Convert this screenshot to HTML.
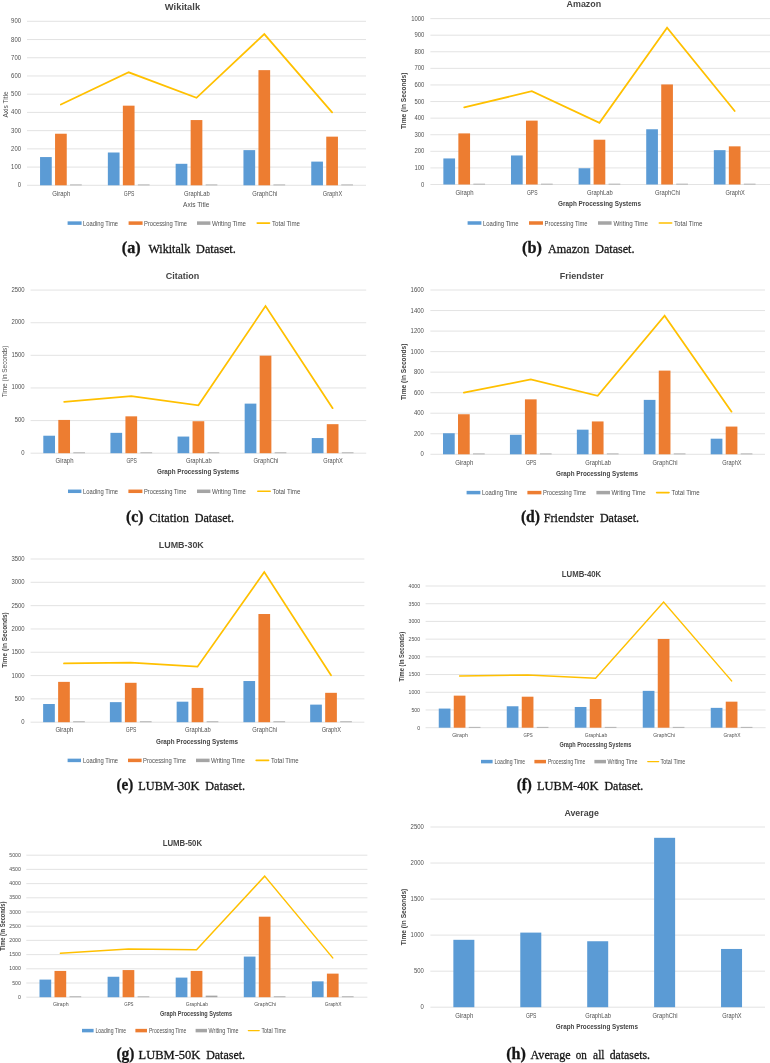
<!DOCTYPE html>
<html lang="en"><head><meta charset="utf-8"><title>Graph processing systems - execution time breakdown</title>
<style>html,body{margin:0;padding:0;background:#fff}body{width:770px;height:1063px;overflow:hidden}svg{display:block;filter:blur(0.35px)}</style>
</head><body>
<svg width="770" height="1063" viewBox="0 0 770 1063">
<rect width="770" height="1063" fill="#ffffff"/>
<g id="chart-a">
<line x1="27" x2="366" y1="185.3" y2="185.3" stroke="#e0e0e0" stroke-width="0.9"/>
<text x="21" y="187.3" text-anchor="end" font-size="6.6" fill="#505050" font-family="Liberation Sans, sans-serif" textLength="3.3" lengthAdjust="spacingAndGlyphs">0</text>
<line x1="27" x2="366" y1="167.08" y2="167.08" stroke="#e0e0e0" stroke-width="0.9"/>
<text x="21" y="169.08" text-anchor="end" font-size="6.6" fill="#505050" font-family="Liberation Sans, sans-serif" textLength="9.9" lengthAdjust="spacingAndGlyphs">100</text>
<line x1="27" x2="366" y1="148.86" y2="148.86" stroke="#e0e0e0" stroke-width="0.9"/>
<text x="21" y="150.86" text-anchor="end" font-size="6.6" fill="#505050" font-family="Liberation Sans, sans-serif" textLength="9.9" lengthAdjust="spacingAndGlyphs">200</text>
<line x1="27" x2="366" y1="130.63" y2="130.63" stroke="#e0e0e0" stroke-width="0.9"/>
<text x="21" y="132.63" text-anchor="end" font-size="6.6" fill="#505050" font-family="Liberation Sans, sans-serif" textLength="9.9" lengthAdjust="spacingAndGlyphs">300</text>
<line x1="27" x2="366" y1="112.41" y2="112.41" stroke="#e0e0e0" stroke-width="0.9"/>
<text x="21" y="114.41" text-anchor="end" font-size="6.6" fill="#505050" font-family="Liberation Sans, sans-serif" textLength="9.9" lengthAdjust="spacingAndGlyphs">400</text>
<line x1="27" x2="366" y1="94.19" y2="94.19" stroke="#e0e0e0" stroke-width="0.9"/>
<text x="21" y="96.19" text-anchor="end" font-size="6.6" fill="#505050" font-family="Liberation Sans, sans-serif" textLength="9.9" lengthAdjust="spacingAndGlyphs">500</text>
<line x1="27" x2="366" y1="75.97" y2="75.97" stroke="#e0e0e0" stroke-width="0.9"/>
<text x="21" y="77.97" text-anchor="end" font-size="6.6" fill="#505050" font-family="Liberation Sans, sans-serif" textLength="9.9" lengthAdjust="spacingAndGlyphs">600</text>
<line x1="27" x2="366" y1="57.74" y2="57.74" stroke="#e0e0e0" stroke-width="0.9"/>
<text x="21" y="59.74" text-anchor="end" font-size="6.6" fill="#505050" font-family="Liberation Sans, sans-serif" textLength="9.9" lengthAdjust="spacingAndGlyphs">700</text>
<line x1="27" x2="366" y1="39.52" y2="39.52" stroke="#e0e0e0" stroke-width="0.9"/>
<text x="21" y="41.52" text-anchor="end" font-size="6.6" fill="#505050" font-family="Liberation Sans, sans-serif" textLength="9.9" lengthAdjust="spacingAndGlyphs">800</text>
<line x1="27" x2="366" y1="21.3" y2="21.3" stroke="#e0e0e0" stroke-width="0.9"/>
<text x="21" y="23.3" text-anchor="end" font-size="6.6" fill="#505050" font-family="Liberation Sans, sans-serif" textLength="9.9" lengthAdjust="spacingAndGlyphs">900</text>
<text x="182.5" y="10.1" text-anchor="middle" font-size="9.4" font-weight="bold" fill="#454545" font-family="Liberation Sans, sans-serif" textLength="35.3" lengthAdjust="spacingAndGlyphs">Wikitalk</text>
<rect x="40.05" y="157.06" width="11.7" height="28.24" fill="#5b9bd5"/>
<rect x="55.05" y="133.73" width="11.7" height="51.57" fill="#ed7d31"/>
<rect x="70.05" y="184.5" width="11.7" height="0.8" fill="#a5a5a5"/>
<text x="61.3" y="195.6" text-anchor="middle" font-size="6.6" fill="#505050" font-family="Liberation Sans, sans-serif" textLength="18" lengthAdjust="spacingAndGlyphs">Giraph</text>
<rect x="107.85" y="152.5" width="11.7" height="32.8" fill="#5b9bd5"/>
<rect x="122.85" y="105.67" width="11.7" height="79.63" fill="#ed7d31"/>
<rect x="137.85" y="184.5" width="11.7" height="0.8" fill="#a5a5a5"/>
<text x="129.1" y="195.6" text-anchor="middle" font-size="6.6" fill="#505050" font-family="Liberation Sans, sans-serif" textLength="10.6" lengthAdjust="spacingAndGlyphs">GPS</text>
<rect x="175.65" y="163.8" width="11.7" height="21.5" fill="#5b9bd5"/>
<rect x="190.65" y="120.06" width="11.7" height="65.24" fill="#ed7d31"/>
<rect x="205.65" y="184.5" width="11.7" height="0.8" fill="#a5a5a5"/>
<text x="196.9" y="195.6" text-anchor="middle" font-size="6.6" fill="#505050" font-family="Liberation Sans, sans-serif" textLength="25.8" lengthAdjust="spacingAndGlyphs">GraphLab</text>
<rect x="243.45" y="150.13" width="11.7" height="35.17" fill="#5b9bd5"/>
<rect x="258.45" y="70.14" width="11.7" height="115.16" fill="#ed7d31"/>
<rect x="273.45" y="184.5" width="11.7" height="0.8" fill="#a5a5a5"/>
<text x="264.7" y="195.6" text-anchor="middle" font-size="6.6" fill="#505050" font-family="Liberation Sans, sans-serif" textLength="25" lengthAdjust="spacingAndGlyphs">GraphChi</text>
<rect x="311.25" y="161.61" width="11.7" height="23.69" fill="#5b9bd5"/>
<rect x="326.25" y="136.65" width="11.7" height="48.65" fill="#ed7d31"/>
<rect x="341.25" y="184.5" width="11.7" height="0.8" fill="#a5a5a5"/>
<text x="332.5" y="195.6" text-anchor="middle" font-size="6.6" fill="#505050" font-family="Liberation Sans, sans-serif" textLength="19.4" lengthAdjust="spacingAndGlyphs">GraphX</text>
<polyline points="60.9,104.58 128.7,72.32 196.5,97.83 264.3,34.06 332.1,112.41" fill="none" stroke="#ffc000" stroke-width="1.75" stroke-linejoin="miter" stroke-miterlimit="10" stroke-linecap="round"/>
<text x="183" y="206.9" font-size="7.2" fill="#505050" font-family="Liberation Sans, sans-serif" textLength="26.4" lengthAdjust="spacingAndGlyphs">Axis Title</text>
<text transform="translate(7.9 117.6) rotate(-90)" font-size="7.2" fill="#505050" font-family="Liberation Sans, sans-serif" textLength="26.4" lengthAdjust="spacingAndGlyphs">Axis Title</text>
<rect x="67.6" y="221.35" width="14" height="3.5" fill="#5b9bd5"/>
<text x="83" y="225.7" font-size="6.9" fill="#505050" font-family="Liberation Sans, sans-serif" textLength="35" lengthAdjust="spacingAndGlyphs">Loading Time</text>
<rect x="128.6" y="221.35" width="14" height="3.5" fill="#ed7d31"/>
<text x="144" y="225.7" font-size="6.9" fill="#505050" font-family="Liberation Sans, sans-serif" textLength="43" lengthAdjust="spacingAndGlyphs">Processing Time</text>
<rect x="197" y="221.35" width="13.4" height="3.5" fill="#a5a5a5"/>
<text x="212" y="225.7" font-size="6.9" fill="#505050" font-family="Liberation Sans, sans-serif" textLength="34" lengthAdjust="spacingAndGlyphs">Writing Time</text>
<line x1="257.2" x2="269.6" y1="223.1" y2="223.1" stroke="#ffc000" stroke-width="1.6" stroke-linecap="round"/>
<text x="272" y="225.7" font-size="6.9" fill="#505050" font-family="Liberation Sans, sans-serif" textLength="28" lengthAdjust="spacingAndGlyphs">Total Time</text>
<text y="252.9" fill="#161616" stroke="#161616" stroke-width="0.3" font-family="Liberation Serif, serif"><tspan x="121.8" font-size="16.4" font-weight="bold" textLength="18.9" lengthAdjust="spacingAndGlyphs">(a)</tspan> <tspan x="148.4" font-size="13" textLength="41.8" lengthAdjust="spacingAndGlyphs">Wikitalk</tspan> <tspan x="196.1" font-size="13" textLength="39.7" lengthAdjust="spacingAndGlyphs">Dataset.</tspan></text>
</g>
<g id="chart-b">
<line x1="430.4" x2="770" y1="184.5" y2="184.5" stroke="#e0e0e0" stroke-width="0.9"/>
<text x="424.4" y="186.5" text-anchor="end" font-size="6.6" fill="#505050" font-family="Liberation Sans, sans-serif" textLength="3.3" lengthAdjust="spacingAndGlyphs">0</text>
<line x1="430.4" x2="770" y1="167.91" y2="167.91" stroke="#e0e0e0" stroke-width="0.9"/>
<text x="424.4" y="169.91" text-anchor="end" font-size="6.6" fill="#505050" font-family="Liberation Sans, sans-serif" textLength="9.9" lengthAdjust="spacingAndGlyphs">100</text>
<line x1="430.4" x2="770" y1="151.32" y2="151.32" stroke="#e0e0e0" stroke-width="0.9"/>
<text x="424.4" y="153.32" text-anchor="end" font-size="6.6" fill="#505050" font-family="Liberation Sans, sans-serif" textLength="9.9" lengthAdjust="spacingAndGlyphs">200</text>
<line x1="430.4" x2="770" y1="134.73" y2="134.73" stroke="#e0e0e0" stroke-width="0.9"/>
<text x="424.4" y="136.73" text-anchor="end" font-size="6.6" fill="#505050" font-family="Liberation Sans, sans-serif" textLength="9.9" lengthAdjust="spacingAndGlyphs">300</text>
<line x1="430.4" x2="770" y1="118.14" y2="118.14" stroke="#e0e0e0" stroke-width="0.9"/>
<text x="424.4" y="120.14" text-anchor="end" font-size="6.6" fill="#505050" font-family="Liberation Sans, sans-serif" textLength="9.9" lengthAdjust="spacingAndGlyphs">400</text>
<line x1="430.4" x2="770" y1="101.55" y2="101.55" stroke="#e0e0e0" stroke-width="0.9"/>
<text x="424.4" y="103.55" text-anchor="end" font-size="6.6" fill="#505050" font-family="Liberation Sans, sans-serif" textLength="9.9" lengthAdjust="spacingAndGlyphs">500</text>
<line x1="430.4" x2="770" y1="84.96" y2="84.96" stroke="#e0e0e0" stroke-width="0.9"/>
<text x="424.4" y="86.96" text-anchor="end" font-size="6.6" fill="#505050" font-family="Liberation Sans, sans-serif" textLength="9.9" lengthAdjust="spacingAndGlyphs">600</text>
<line x1="430.4" x2="770" y1="68.37" y2="68.37" stroke="#e0e0e0" stroke-width="0.9"/>
<text x="424.4" y="70.37" text-anchor="end" font-size="6.6" fill="#505050" font-family="Liberation Sans, sans-serif" textLength="9.9" lengthAdjust="spacingAndGlyphs">700</text>
<line x1="430.4" x2="770" y1="51.78" y2="51.78" stroke="#e0e0e0" stroke-width="0.9"/>
<text x="424.4" y="53.78" text-anchor="end" font-size="6.6" fill="#505050" font-family="Liberation Sans, sans-serif" textLength="9.9" lengthAdjust="spacingAndGlyphs">800</text>
<line x1="430.4" x2="770" y1="35.19" y2="35.19" stroke="#e0e0e0" stroke-width="0.9"/>
<text x="424.4" y="37.19" text-anchor="end" font-size="6.6" fill="#505050" font-family="Liberation Sans, sans-serif" textLength="9.9" lengthAdjust="spacingAndGlyphs">900</text>
<line x1="430.4" x2="770" y1="18.6" y2="18.6" stroke="#e0e0e0" stroke-width="0.9"/>
<text x="424.4" y="20.6" text-anchor="end" font-size="6.6" fill="#505050" font-family="Liberation Sans, sans-serif" textLength="13.2" lengthAdjust="spacingAndGlyphs">1000</text>
<text x="583.9" y="6.5" text-anchor="middle" font-size="9.4" font-weight="bold" fill="#454545" font-family="Liberation Sans, sans-serif" textLength="34.6" lengthAdjust="spacingAndGlyphs">Amazon</text>
<rect x="443.36" y="158.45" width="11.7" height="26.05" fill="#5b9bd5"/>
<rect x="458.36" y="133.4" width="11.7" height="51.1" fill="#ed7d31"/>
<rect x="473.36" y="183.7" width="11.7" height="0.8" fill="#a5a5a5"/>
<text x="464.61" y="194.5" text-anchor="middle" font-size="6.6" fill="#505050" font-family="Liberation Sans, sans-serif" textLength="18" lengthAdjust="spacingAndGlyphs">Giraph</text>
<rect x="510.98" y="155.47" width="11.7" height="29.03" fill="#5b9bd5"/>
<rect x="525.98" y="120.63" width="11.7" height="63.87" fill="#ed7d31"/>
<rect x="540.98" y="183.7" width="11.7" height="0.8" fill="#a5a5a5"/>
<text x="532.23" y="194.5" text-anchor="middle" font-size="6.6" fill="#505050" font-family="Liberation Sans, sans-serif" textLength="10.6" lengthAdjust="spacingAndGlyphs">GPS</text>
<rect x="578.6" y="168.24" width="11.7" height="16.26" fill="#5b9bd5"/>
<rect x="593.6" y="139.71" width="11.7" height="44.79" fill="#ed7d31"/>
<rect x="608.6" y="183.7" width="11.7" height="0.8" fill="#a5a5a5"/>
<text x="599.85" y="194.5" text-anchor="middle" font-size="6.6" fill="#505050" font-family="Liberation Sans, sans-serif" textLength="25.8" lengthAdjust="spacingAndGlyphs">GraphLab</text>
<rect x="646.22" y="129.26" width="11.7" height="55.24" fill="#5b9bd5"/>
<rect x="661.22" y="84.46" width="11.7" height="100.04" fill="#ed7d31"/>
<rect x="676.22" y="183.7" width="11.7" height="0.8" fill="#a5a5a5"/>
<text x="667.47" y="194.5" text-anchor="middle" font-size="6.6" fill="#505050" font-family="Liberation Sans, sans-serif" textLength="25" lengthAdjust="spacingAndGlyphs">GraphChi</text>
<rect x="713.84" y="150.16" width="11.7" height="34.34" fill="#5b9bd5"/>
<rect x="728.84" y="146.34" width="11.7" height="38.16" fill="#ed7d31"/>
<rect x="743.84" y="183.7" width="11.7" height="0.8" fill="#a5a5a5"/>
<text x="735.09" y="194.5" text-anchor="middle" font-size="6.6" fill="#505050" font-family="Liberation Sans, sans-serif" textLength="19.4" lengthAdjust="spacingAndGlyphs">GraphX</text>
<polyline points="464.21,107.36 531.83,91.26 599.45,122.79 667.07,27.72 734.69,111.01" fill="none" stroke="#ffc000" stroke-width="1.75" stroke-linejoin="miter" stroke-miterlimit="10" stroke-linecap="round"/>
<text x="558" y="205.9" font-size="7.2" fill="#454545" font-family="Liberation Sans, sans-serif" font-weight="bold" textLength="83" lengthAdjust="spacingAndGlyphs">Graph Processing Systems</text>
<text transform="translate(406.3 129.05) rotate(-90)" font-size="7.2" fill="#454545" font-family="Liberation Sans, sans-serif" font-weight="bold" textLength="56.5" lengthAdjust="spacingAndGlyphs">Time (in Seconds)</text>
<rect x="467.6" y="221.25" width="13.8" height="3.5" fill="#5b9bd5"/>
<text x="483" y="225.6" font-size="6.9" fill="#505050" font-family="Liberation Sans, sans-serif" textLength="35.6" lengthAdjust="spacingAndGlyphs">Loading Time</text>
<rect x="529" y="221.25" width="14" height="3.5" fill="#ed7d31"/>
<text x="544.6" y="225.6" font-size="6.9" fill="#505050" font-family="Liberation Sans, sans-serif" textLength="43" lengthAdjust="spacingAndGlyphs">Processing Time</text>
<rect x="598" y="221.25" width="13.6" height="3.5" fill="#a5a5a5"/>
<text x="613.4" y="225.6" font-size="6.9" fill="#505050" font-family="Liberation Sans, sans-serif" textLength="34.6" lengthAdjust="spacingAndGlyphs">Writing Time</text>
<line x1="659.3" x2="671.7" y1="223" y2="223" stroke="#ffc000" stroke-width="1.6" stroke-linecap="round"/>
<text x="674" y="225.6" font-size="6.9" fill="#505050" font-family="Liberation Sans, sans-serif" textLength="28.4" lengthAdjust="spacingAndGlyphs">Total Time</text>
<text y="252.9" fill="#161616" stroke="#161616" stroke-width="0.3" font-family="Liberation Serif, serif"><tspan x="522.1" font-size="16.4" font-weight="bold" textLength="19.9" lengthAdjust="spacingAndGlyphs">(b)</tspan> <tspan x="547.9" font-size="13" textLength="41.4" lengthAdjust="spacingAndGlyphs">Amazon</tspan> <tspan x="595.2" font-size="13" textLength="39.3" lengthAdjust="spacingAndGlyphs">Dataset.</tspan></text>
</g>
<g id="chart-c">
<line x1="30.6" x2="366.2" y1="453.2" y2="453.2" stroke="#e0e0e0" stroke-width="0.9"/>
<text x="24.6" y="454.6" text-anchor="end" font-size="6.6" fill="#505050" font-family="Liberation Sans, sans-serif" textLength="3.3" lengthAdjust="spacingAndGlyphs">0</text>
<line x1="30.6" x2="366.2" y1="420.58" y2="420.58" stroke="#e0e0e0" stroke-width="0.9"/>
<text x="24.6" y="421.98" text-anchor="end" font-size="6.6" fill="#505050" font-family="Liberation Sans, sans-serif" textLength="9.9" lengthAdjust="spacingAndGlyphs">500</text>
<line x1="30.6" x2="366.2" y1="387.96" y2="387.96" stroke="#e0e0e0" stroke-width="0.9"/>
<text x="24.6" y="389.36" text-anchor="end" font-size="6.6" fill="#505050" font-family="Liberation Sans, sans-serif" textLength="13.2" lengthAdjust="spacingAndGlyphs">1000</text>
<line x1="30.6" x2="366.2" y1="355.34" y2="355.34" stroke="#e0e0e0" stroke-width="0.9"/>
<text x="24.6" y="356.74" text-anchor="end" font-size="6.6" fill="#505050" font-family="Liberation Sans, sans-serif" textLength="13.2" lengthAdjust="spacingAndGlyphs">1500</text>
<line x1="30.6" x2="366.2" y1="322.72" y2="322.72" stroke="#e0e0e0" stroke-width="0.9"/>
<text x="24.6" y="324.12" text-anchor="end" font-size="6.6" fill="#505050" font-family="Liberation Sans, sans-serif" textLength="13.2" lengthAdjust="spacingAndGlyphs">2000</text>
<line x1="30.6" x2="366.2" y1="290.1" y2="290.1" stroke="#e0e0e0" stroke-width="0.9"/>
<text x="24.6" y="291.5" text-anchor="end" font-size="6.6" fill="#505050" font-family="Liberation Sans, sans-serif" textLength="13.2" lengthAdjust="spacingAndGlyphs">2500</text>
<text x="182.5" y="278.9" text-anchor="middle" font-size="9.4" font-weight="bold" fill="#454545" font-family="Liberation Sans, sans-serif" textLength="33.5" lengthAdjust="spacingAndGlyphs">Citation</text>
<rect x="43.31" y="435.72" width="11.7" height="17.48" fill="#5b9bd5"/>
<rect x="58.31" y="419.93" width="11.7" height="33.27" fill="#ed7d31"/>
<rect x="73.31" y="452.4" width="11.7" height="0.8" fill="#a5a5a5"/>
<text x="64.56" y="462.9" text-anchor="middle" font-size="6.6" fill="#505050" font-family="Liberation Sans, sans-serif" textLength="18" lengthAdjust="spacingAndGlyphs">Giraph</text>
<rect x="110.43" y="432.85" width="11.7" height="20.35" fill="#5b9bd5"/>
<rect x="125.43" y="416.34" width="11.7" height="36.86" fill="#ed7d31"/>
<rect x="140.43" y="452.4" width="11.7" height="0.8" fill="#a5a5a5"/>
<text x="131.68" y="462.9" text-anchor="middle" font-size="6.6" fill="#505050" font-family="Liberation Sans, sans-serif" textLength="10.6" lengthAdjust="spacingAndGlyphs">GPS</text>
<rect x="177.55" y="436.56" width="11.7" height="16.64" fill="#5b9bd5"/>
<rect x="192.55" y="421.23" width="11.7" height="31.97" fill="#ed7d31"/>
<rect x="207.55" y="452.4" width="11.7" height="0.8" fill="#a5a5a5"/>
<text x="198.8" y="462.9" text-anchor="middle" font-size="6.6" fill="#505050" font-family="Liberation Sans, sans-serif" textLength="25.8" lengthAdjust="spacingAndGlyphs">GraphLab</text>
<rect x="244.67" y="403.62" width="11.7" height="49.58" fill="#5b9bd5"/>
<rect x="259.67" y="355.67" width="11.7" height="97.53" fill="#ed7d31"/>
<rect x="274.67" y="452.4" width="11.7" height="0.8" fill="#a5a5a5"/>
<text x="265.92" y="462.9" text-anchor="middle" font-size="6.6" fill="#505050" font-family="Liberation Sans, sans-serif" textLength="25" lengthAdjust="spacingAndGlyphs">GraphChi</text>
<rect x="311.79" y="438.06" width="11.7" height="15.14" fill="#5b9bd5"/>
<rect x="326.79" y="424.17" width="11.7" height="29.03" fill="#ed7d31"/>
<rect x="341.79" y="452.4" width="11.7" height="0.8" fill="#a5a5a5"/>
<text x="333.04" y="462.9" text-anchor="middle" font-size="6.6" fill="#505050" font-family="Liberation Sans, sans-serif" textLength="19.4" lengthAdjust="spacingAndGlyphs">GraphX</text>
<polyline points="64.16,401.99 131.28,396.12 198.4,405.25 265.52,306.08 332.64,408.18" fill="none" stroke="#ffc000" stroke-width="1.75" stroke-linejoin="miter" stroke-miterlimit="10" stroke-linecap="round"/>
<text x="157" y="473.9" font-size="7.2" fill="#454545" font-family="Liberation Sans, sans-serif" font-weight="bold" textLength="82" lengthAdjust="spacingAndGlyphs">Graph Processing Systems</text>
<text transform="translate(7 397.35) rotate(-90)" font-size="7.2" fill="#505050" font-family="Liberation Sans, sans-serif" textLength="51.7" lengthAdjust="spacingAndGlyphs">Time (in Seconds)</text>
<rect x="68" y="489.55" width="13.4" height="3.5" fill="#5b9bd5"/>
<text x="83" y="493.9" font-size="6.9" fill="#505050" font-family="Liberation Sans, sans-serif" textLength="35" lengthAdjust="spacingAndGlyphs">Loading Time</text>
<rect x="128.4" y="489.55" width="14" height="3.5" fill="#ed7d31"/>
<text x="144" y="493.9" font-size="6.9" fill="#505050" font-family="Liberation Sans, sans-serif" textLength="42.4" lengthAdjust="spacingAndGlyphs">Processing Time</text>
<rect x="197" y="489.55" width="13.4" height="3.5" fill="#a5a5a5"/>
<text x="212" y="493.9" font-size="6.9" fill="#505050" font-family="Liberation Sans, sans-serif" textLength="34" lengthAdjust="spacingAndGlyphs">Writing Time</text>
<line x1="257.8" x2="270.2" y1="491.3" y2="491.3" stroke="#ffc000" stroke-width="1.6" stroke-linecap="round"/>
<text x="272.4" y="493.9" font-size="6.9" fill="#505050" font-family="Liberation Sans, sans-serif" textLength="28" lengthAdjust="spacingAndGlyphs">Total Time</text>
<text y="522.1" fill="#161616" stroke="#161616" stroke-width="0.3" font-family="Liberation Serif, serif"><tspan x="126" font-size="16.4" font-weight="bold" textLength="17.4" lengthAdjust="spacingAndGlyphs">(c)</tspan> <tspan x="149.3" font-size="13" textLength="39.6" lengthAdjust="spacingAndGlyphs">Citation</tspan> <tspan x="194.7" font-size="13" textLength="39.3" lengthAdjust="spacingAndGlyphs">Dataset.</tspan></text>
</g>
<g id="chart-d">
<line x1="430.4" x2="765" y1="454.3" y2="454.3" stroke="#e0e0e0" stroke-width="0.9"/>
<text x="423.8" y="456.3" text-anchor="end" font-size="6.6" fill="#505050" font-family="Liberation Sans, sans-serif" textLength="3.3" lengthAdjust="spacingAndGlyphs">0</text>
<line x1="430.4" x2="765" y1="433.76" y2="433.76" stroke="#e0e0e0" stroke-width="0.9"/>
<text x="423.8" y="435.76" text-anchor="end" font-size="6.6" fill="#505050" font-family="Liberation Sans, sans-serif" textLength="9.9" lengthAdjust="spacingAndGlyphs">200</text>
<line x1="430.4" x2="765" y1="413.23" y2="413.23" stroke="#e0e0e0" stroke-width="0.9"/>
<text x="423.8" y="415.23" text-anchor="end" font-size="6.6" fill="#505050" font-family="Liberation Sans, sans-serif" textLength="9.9" lengthAdjust="spacingAndGlyphs">400</text>
<line x1="430.4" x2="765" y1="392.69" y2="392.69" stroke="#e0e0e0" stroke-width="0.9"/>
<text x="423.8" y="394.69" text-anchor="end" font-size="6.6" fill="#505050" font-family="Liberation Sans, sans-serif" textLength="9.9" lengthAdjust="spacingAndGlyphs">600</text>
<line x1="430.4" x2="765" y1="372.15" y2="372.15" stroke="#e0e0e0" stroke-width="0.9"/>
<text x="423.8" y="374.15" text-anchor="end" font-size="6.6" fill="#505050" font-family="Liberation Sans, sans-serif" textLength="9.9" lengthAdjust="spacingAndGlyphs">800</text>
<line x1="430.4" x2="765" y1="351.61" y2="351.61" stroke="#e0e0e0" stroke-width="0.9"/>
<text x="423.8" y="353.61" text-anchor="end" font-size="6.6" fill="#505050" font-family="Liberation Sans, sans-serif" textLength="13.2" lengthAdjust="spacingAndGlyphs">1000</text>
<line x1="430.4" x2="765" y1="331.08" y2="331.08" stroke="#e0e0e0" stroke-width="0.9"/>
<text x="423.8" y="333.08" text-anchor="end" font-size="6.6" fill="#505050" font-family="Liberation Sans, sans-serif" textLength="13.2" lengthAdjust="spacingAndGlyphs">1200</text>
<line x1="430.4" x2="765" y1="310.54" y2="310.54" stroke="#e0e0e0" stroke-width="0.9"/>
<text x="423.8" y="312.54" text-anchor="end" font-size="6.6" fill="#505050" font-family="Liberation Sans, sans-serif" textLength="13.2" lengthAdjust="spacingAndGlyphs">1400</text>
<line x1="430.4" x2="765" y1="290" y2="290" stroke="#e0e0e0" stroke-width="0.9"/>
<text x="423.8" y="292" text-anchor="end" font-size="6.6" fill="#505050" font-family="Liberation Sans, sans-serif" textLength="13.2" lengthAdjust="spacingAndGlyphs">1600</text>
<text x="581.8" y="278.9" text-anchor="middle" font-size="9.4" font-weight="bold" fill="#454545" font-family="Liberation Sans, sans-serif" textLength="43.9" lengthAdjust="spacingAndGlyphs">Friendster</text>
<rect x="443.01" y="433.25" width="11.7" height="21.05" fill="#5b9bd5"/>
<rect x="458.01" y="414.25" width="11.7" height="40.05" fill="#ed7d31"/>
<rect x="473.01" y="453.48" width="11.7" height="0.82" fill="#a5a5a5"/>
<text x="464.26" y="464.5" text-anchor="middle" font-size="6.6" fill="#505050" font-family="Liberation Sans, sans-serif" textLength="18" lengthAdjust="spacingAndGlyphs">Giraph</text>
<rect x="509.93" y="434.79" width="11.7" height="19.51" fill="#5b9bd5"/>
<rect x="524.93" y="399.36" width="11.7" height="54.94" fill="#ed7d31"/>
<rect x="539.93" y="453.48" width="11.7" height="0.82" fill="#a5a5a5"/>
<text x="531.18" y="464.5" text-anchor="middle" font-size="6.6" fill="#505050" font-family="Liberation Sans, sans-serif" textLength="10.6" lengthAdjust="spacingAndGlyphs">GPS</text>
<rect x="576.85" y="429.66" width="11.7" height="24.64" fill="#5b9bd5"/>
<rect x="591.85" y="421.44" width="11.7" height="32.86" fill="#ed7d31"/>
<rect x="606.85" y="453.48" width="11.7" height="0.82" fill="#a5a5a5"/>
<text x="598.1" y="464.5" text-anchor="middle" font-size="6.6" fill="#505050" font-family="Liberation Sans, sans-serif" textLength="25.8" lengthAdjust="spacingAndGlyphs">GraphLab</text>
<rect x="643.77" y="399.88" width="11.7" height="54.42" fill="#5b9bd5"/>
<rect x="658.77" y="370.61" width="11.7" height="83.69" fill="#ed7d31"/>
<rect x="673.77" y="453.48" width="11.7" height="0.82" fill="#a5a5a5"/>
<text x="665.02" y="464.5" text-anchor="middle" font-size="6.6" fill="#505050" font-family="Liberation Sans, sans-serif" textLength="25" lengthAdjust="spacingAndGlyphs">GraphChi</text>
<rect x="710.69" y="438.69" width="11.7" height="15.61" fill="#5b9bd5"/>
<rect x="725.69" y="426.57" width="11.7" height="27.73" fill="#ed7d31"/>
<rect x="740.69" y="453.48" width="11.7" height="0.82" fill="#a5a5a5"/>
<text x="731.94" y="464.5" text-anchor="middle" font-size="6.6" fill="#505050" font-family="Liberation Sans, sans-serif" textLength="19.4" lengthAdjust="spacingAndGlyphs">GraphX</text>
<polyline points="463.86,392.69 530.78,379.34 597.7,395.77 664.62,315.67 731.54,411.68" fill="none" stroke="#ffc000" stroke-width="1.75" stroke-linejoin="miter" stroke-miterlimit="10" stroke-linecap="round"/>
<text x="556" y="475.5" font-size="7.2" fill="#454545" font-family="Liberation Sans, sans-serif" font-weight="bold" textLength="82" lengthAdjust="spacingAndGlyphs">Graph Processing Systems</text>
<text transform="translate(406.3 400.05) rotate(-90)" font-size="7.2" fill="#454545" font-family="Liberation Sans, sans-serif" font-weight="bold" textLength="56.5" lengthAdjust="spacingAndGlyphs">Time (in Seconds)</text>
<rect x="466.6" y="490.85" width="13.8" height="3.5" fill="#5b9bd5"/>
<text x="482" y="495.2" font-size="6.9" fill="#505050" font-family="Liberation Sans, sans-serif" textLength="35.4" lengthAdjust="spacingAndGlyphs">Loading Time</text>
<rect x="527.4" y="490.85" width="14" height="3.5" fill="#ed7d31"/>
<text x="543" y="495.2" font-size="6.9" fill="#505050" font-family="Liberation Sans, sans-serif" textLength="43" lengthAdjust="spacingAndGlyphs">Processing Time</text>
<rect x="596.4" y="490.85" width="13.6" height="3.5" fill="#a5a5a5"/>
<text x="611.4" y="495.2" font-size="6.9" fill="#505050" font-family="Liberation Sans, sans-serif" textLength="34.2" lengthAdjust="spacingAndGlyphs">Writing Time</text>
<line x1="656.6" x2="669" y1="492.6" y2="492.6" stroke="#ffc000" stroke-width="1.6" stroke-linecap="round"/>
<text x="671.6" y="495.2" font-size="6.9" fill="#505050" font-family="Liberation Sans, sans-serif" textLength="28" lengthAdjust="spacingAndGlyphs">Total Time</text>
<text y="522.3" fill="#161616" stroke="#161616" stroke-width="0.3" font-family="Liberation Serif, serif"><tspan x="520.9" font-size="16.4" font-weight="bold" textLength="19.1" lengthAdjust="spacingAndGlyphs">(d)</tspan> <tspan x="543.7" font-size="13" textLength="49.8" lengthAdjust="spacingAndGlyphs">Friendster</tspan> <tspan x="599.9" font-size="13" textLength="39.2" lengthAdjust="spacingAndGlyphs">Dataset.</tspan></text>
</g>
<g id="chart-e">
<line x1="30.6" x2="364.4" y1="722.2" y2="722.2" stroke="#e0e0e0" stroke-width="0.9"/>
<text x="24.6" y="724.2" text-anchor="end" font-size="6.6" fill="#505050" font-family="Liberation Sans, sans-serif" textLength="3.3" lengthAdjust="spacingAndGlyphs">0</text>
<line x1="30.6" x2="364.4" y1="698.89" y2="698.89" stroke="#e0e0e0" stroke-width="0.9"/>
<text x="24.6" y="700.89" text-anchor="end" font-size="6.6" fill="#505050" font-family="Liberation Sans, sans-serif" textLength="9.9" lengthAdjust="spacingAndGlyphs">500</text>
<line x1="30.6" x2="364.4" y1="675.57" y2="675.57" stroke="#e0e0e0" stroke-width="0.9"/>
<text x="24.6" y="677.57" text-anchor="end" font-size="6.6" fill="#505050" font-family="Liberation Sans, sans-serif" textLength="13.2" lengthAdjust="spacingAndGlyphs">1000</text>
<line x1="30.6" x2="364.4" y1="652.26" y2="652.26" stroke="#e0e0e0" stroke-width="0.9"/>
<text x="24.6" y="654.26" text-anchor="end" font-size="6.6" fill="#505050" font-family="Liberation Sans, sans-serif" textLength="13.2" lengthAdjust="spacingAndGlyphs">1500</text>
<line x1="30.6" x2="364.4" y1="628.94" y2="628.94" stroke="#e0e0e0" stroke-width="0.9"/>
<text x="24.6" y="630.94" text-anchor="end" font-size="6.6" fill="#505050" font-family="Liberation Sans, sans-serif" textLength="13.2" lengthAdjust="spacingAndGlyphs">2000</text>
<line x1="30.6" x2="364.4" y1="605.63" y2="605.63" stroke="#e0e0e0" stroke-width="0.9"/>
<text x="24.6" y="607.63" text-anchor="end" font-size="6.6" fill="#505050" font-family="Liberation Sans, sans-serif" textLength="13.2" lengthAdjust="spacingAndGlyphs">2500</text>
<line x1="30.6" x2="364.4" y1="582.31" y2="582.31" stroke="#e0e0e0" stroke-width="0.9"/>
<text x="24.6" y="584.31" text-anchor="end" font-size="6.6" fill="#505050" font-family="Liberation Sans, sans-serif" textLength="13.2" lengthAdjust="spacingAndGlyphs">3000</text>
<line x1="30.6" x2="364.4" y1="559" y2="559" stroke="#e0e0e0" stroke-width="0.9"/>
<text x="24.6" y="561" text-anchor="end" font-size="6.6" fill="#505050" font-family="Liberation Sans, sans-serif" textLength="13.2" lengthAdjust="spacingAndGlyphs">3500</text>
<text x="181.3" y="547.8" text-anchor="middle" font-size="9.4" font-weight="bold" fill="#454545" font-family="Liberation Sans, sans-serif" textLength="45" lengthAdjust="spacingAndGlyphs">LUMB-30K</text>
<rect x="43.13" y="704.01" width="11.7" height="18.19" fill="#5b9bd5"/>
<rect x="58.13" y="681.87" width="11.7" height="40.33" fill="#ed7d31"/>
<rect x="73.13" y="721.36" width="11.7" height="0.84" fill="#a5a5a5"/>
<text x="64.38" y="732.3" text-anchor="middle" font-size="6.6" fill="#505050" font-family="Liberation Sans, sans-serif" textLength="18" lengthAdjust="spacingAndGlyphs">Giraph</text>
<rect x="109.89" y="702.15" width="11.7" height="20.05" fill="#5b9bd5"/>
<rect x="124.89" y="682.8" width="11.7" height="39.4" fill="#ed7d31"/>
<rect x="139.89" y="721.36" width="11.7" height="0.84" fill="#a5a5a5"/>
<text x="131.14" y="732.3" text-anchor="middle" font-size="6.6" fill="#505050" font-family="Liberation Sans, sans-serif" textLength="10.6" lengthAdjust="spacingAndGlyphs">GPS</text>
<rect x="176.65" y="701.68" width="11.7" height="20.52" fill="#5b9bd5"/>
<rect x="191.65" y="687.93" width="11.7" height="34.27" fill="#ed7d31"/>
<rect x="206.65" y="721.36" width="11.7" height="0.84" fill="#a5a5a5"/>
<text x="197.9" y="732.3" text-anchor="middle" font-size="6.6" fill="#505050" font-family="Liberation Sans, sans-serif" textLength="25.8" lengthAdjust="spacingAndGlyphs">GraphLab</text>
<rect x="243.41" y="681.03" width="11.7" height="41.17" fill="#5b9bd5"/>
<rect x="258.41" y="614.02" width="11.7" height="108.18" fill="#ed7d31"/>
<rect x="273.41" y="721.36" width="11.7" height="0.84" fill="#a5a5a5"/>
<text x="264.66" y="732.3" text-anchor="middle" font-size="6.6" fill="#505050" font-family="Liberation Sans, sans-serif" textLength="25" lengthAdjust="spacingAndGlyphs">GraphChi</text>
<rect x="310.17" y="704.62" width="11.7" height="17.58" fill="#5b9bd5"/>
<rect x="325.17" y="692.82" width="11.7" height="29.38" fill="#ed7d31"/>
<rect x="340.17" y="721.36" width="11.7" height="0.84" fill="#a5a5a5"/>
<text x="331.42" y="732.3" text-anchor="middle" font-size="6.6" fill="#505050" font-family="Liberation Sans, sans-serif" textLength="19.4" lengthAdjust="spacingAndGlyphs">GraphX</text>
<polyline points="63.98,663.45 130.74,662.52 197.5,666.71 264.26,572.06 331.02,675.34" fill="none" stroke="#ffc000" stroke-width="1.75" stroke-linejoin="miter" stroke-miterlimit="10" stroke-linecap="round"/>
<text x="156" y="743.5" font-size="7.2" fill="#454545" font-family="Liberation Sans, sans-serif" font-weight="bold" textLength="82" lengthAdjust="spacingAndGlyphs">Graph Processing Systems</text>
<text transform="translate(7.2 667.75) rotate(-90)" font-size="7.2" fill="#454545" font-family="Liberation Sans, sans-serif" font-weight="bold" textLength="55.5" lengthAdjust="spacingAndGlyphs">Time (in Seconds)</text>
<rect x="67.6" y="758.65" width="13.4" height="3.5" fill="#5b9bd5"/>
<text x="83" y="763" font-size="6.9" fill="#505050" font-family="Liberation Sans, sans-serif" textLength="35" lengthAdjust="spacingAndGlyphs">Loading Time</text>
<rect x="128" y="758.65" width="13.6" height="3.5" fill="#ed7d31"/>
<text x="143" y="763" font-size="6.9" fill="#505050" font-family="Liberation Sans, sans-serif" textLength="43" lengthAdjust="spacingAndGlyphs">Processing Time</text>
<rect x="196" y="758.65" width="13.6" height="3.5" fill="#a5a5a5"/>
<text x="211" y="763" font-size="6.9" fill="#505050" font-family="Liberation Sans, sans-serif" textLength="34" lengthAdjust="spacingAndGlyphs">Writing Time</text>
<line x1="256.2" x2="268.6" y1="760.4" y2="760.4" stroke="#ffc000" stroke-width="1.6" stroke-linecap="round"/>
<text x="271" y="763" font-size="6.9" fill="#505050" font-family="Liberation Sans, sans-serif" textLength="27.6" lengthAdjust="spacingAndGlyphs">Total Time</text>
<text y="789.9" fill="#161616" stroke="#161616" stroke-width="0.3" font-family="Liberation Serif, serif"><tspan x="116.4" font-size="16.4" font-weight="bold" textLength="16.8" lengthAdjust="spacingAndGlyphs">(e)</tspan> <tspan x="138.3" font-size="13" textLength="61.1" lengthAdjust="spacingAndGlyphs">LUBM-30K</tspan> <tspan x="205.3" font-size="13" textLength="39.7" lengthAdjust="spacingAndGlyphs">Dataset.</tspan></text>
</g>
<g id="chart-f">
<line x1="425.6" x2="765.6" y1="727.7" y2="727.7" stroke="#e0e0e0" stroke-width="0.9"/>
<text x="420" y="729.58" text-anchor="end" font-size="6.2" fill="#505050" font-family="Liberation Sans, sans-serif" textLength="2.87" lengthAdjust="spacingAndGlyphs">0</text>
<line x1="425.6" x2="765.6" y1="709.99" y2="709.99" stroke="#e0e0e0" stroke-width="0.9"/>
<text x="420" y="711.87" text-anchor="end" font-size="6.2" fill="#505050" font-family="Liberation Sans, sans-serif" textLength="8.61" lengthAdjust="spacingAndGlyphs">500</text>
<line x1="425.6" x2="765.6" y1="692.28" y2="692.28" stroke="#e0e0e0" stroke-width="0.9"/>
<text x="420" y="694.16" text-anchor="end" font-size="6.2" fill="#505050" font-family="Liberation Sans, sans-serif" textLength="11.48" lengthAdjust="spacingAndGlyphs">1000</text>
<line x1="425.6" x2="765.6" y1="674.56" y2="674.56" stroke="#e0e0e0" stroke-width="0.9"/>
<text x="420" y="676.44" text-anchor="end" font-size="6.2" fill="#505050" font-family="Liberation Sans, sans-serif" textLength="11.48" lengthAdjust="spacingAndGlyphs">1500</text>
<line x1="425.6" x2="765.6" y1="656.85" y2="656.85" stroke="#e0e0e0" stroke-width="0.9"/>
<text x="420" y="658.73" text-anchor="end" font-size="6.2" fill="#505050" font-family="Liberation Sans, sans-serif" textLength="11.48" lengthAdjust="spacingAndGlyphs">2000</text>
<line x1="425.6" x2="765.6" y1="639.14" y2="639.14" stroke="#e0e0e0" stroke-width="0.9"/>
<text x="420" y="641.02" text-anchor="end" font-size="6.2" fill="#505050" font-family="Liberation Sans, sans-serif" textLength="11.48" lengthAdjust="spacingAndGlyphs">2500</text>
<line x1="425.6" x2="765.6" y1="621.42" y2="621.42" stroke="#e0e0e0" stroke-width="0.9"/>
<text x="420" y="623.3" text-anchor="end" font-size="6.2" fill="#505050" font-family="Liberation Sans, sans-serif" textLength="11.48" lengthAdjust="spacingAndGlyphs">3000</text>
<line x1="425.6" x2="765.6" y1="603.71" y2="603.71" stroke="#e0e0e0" stroke-width="0.9"/>
<text x="420" y="605.59" text-anchor="end" font-size="6.2" fill="#505050" font-family="Liberation Sans, sans-serif" textLength="11.48" lengthAdjust="spacingAndGlyphs">3500</text>
<line x1="425.6" x2="765.6" y1="586" y2="586" stroke="#e0e0e0" stroke-width="0.9"/>
<text x="420" y="587.88" text-anchor="end" font-size="6.2" fill="#505050" font-family="Liberation Sans, sans-serif" textLength="11.48" lengthAdjust="spacingAndGlyphs">4000</text>
<text x="581.5" y="576.6" text-anchor="middle" font-size="8.9" font-weight="bold" fill="#454545" font-family="Liberation Sans, sans-serif" textLength="39.4" lengthAdjust="spacingAndGlyphs">LUMB-40K</text>
<rect x="438.75" y="708.57" width="11.7" height="19.13" fill="#5b9bd5"/>
<rect x="453.75" y="695.64" width="11.7" height="32.06" fill="#ed7d31"/>
<rect x="468.75" y="726.9" width="11.7" height="0.8" fill="#a5a5a5"/>
<text x="460" y="736.97" text-anchor="middle" font-size="6.2" fill="#505050" font-family="Liberation Sans, sans-serif" textLength="15.66" lengthAdjust="spacingAndGlyphs">Giraph</text>
<rect x="506.75" y="706.27" width="11.7" height="21.43" fill="#5b9bd5"/>
<rect x="521.75" y="696.7" width="11.7" height="31" fill="#ed7d31"/>
<rect x="536.75" y="726.9" width="11.7" height="0.8" fill="#a5a5a5"/>
<text x="528" y="736.97" text-anchor="middle" font-size="6.2" fill="#505050" font-family="Liberation Sans, sans-serif" textLength="9.22" lengthAdjust="spacingAndGlyphs">GPS</text>
<rect x="574.75" y="706.98" width="11.7" height="20.72" fill="#5b9bd5"/>
<rect x="589.75" y="699.01" width="11.7" height="28.69" fill="#ed7d31"/>
<rect x="604.75" y="726.9" width="11.7" height="0.8" fill="#a5a5a5"/>
<text x="596" y="736.97" text-anchor="middle" font-size="6.2" fill="#505050" font-family="Liberation Sans, sans-serif" textLength="22.45" lengthAdjust="spacingAndGlyphs">GraphLab</text>
<rect x="642.75" y="690.86" width="11.7" height="36.84" fill="#5b9bd5"/>
<rect x="657.75" y="638.96" width="11.7" height="88.74" fill="#ed7d31"/>
<rect x="672.75" y="726.9" width="11.7" height="0.8" fill="#a5a5a5"/>
<text x="664" y="736.97" text-anchor="middle" font-size="6.2" fill="#505050" font-family="Liberation Sans, sans-serif" textLength="21.75" lengthAdjust="spacingAndGlyphs">GraphChi</text>
<rect x="710.75" y="707.86" width="11.7" height="19.84" fill="#5b9bd5"/>
<rect x="725.75" y="701.66" width="11.7" height="26.04" fill="#ed7d31"/>
<rect x="740.75" y="726.9" width="11.7" height="0.8" fill="#a5a5a5"/>
<text x="732" y="736.97" text-anchor="middle" font-size="6.2" fill="#505050" font-family="Liberation Sans, sans-serif" textLength="16.88" lengthAdjust="spacingAndGlyphs">GraphX</text>
<polyline points="459.6,675.98 527.6,674.92 595.6,678.28 663.6,602.12 731.6,680.87" fill="none" stroke="#ffc000" stroke-width="1.45" stroke-linejoin="miter" stroke-miterlimit="10" stroke-linecap="round"/>
<text x="559.4" y="746.76" font-size="6.77" fill="#454545" font-family="Liberation Sans, sans-serif" font-weight="bold" textLength="72" lengthAdjust="spacingAndGlyphs">Graph Processing Systems</text>
<text transform="translate(403.7 681.5) rotate(-90)" font-size="6.77" fill="#454545" font-family="Liberation Sans, sans-serif" font-weight="bold" textLength="49.6" lengthAdjust="spacingAndGlyphs">Time (in Seconds)</text>
<rect x="481" y="759.85" width="11.6" height="3.5" fill="#5b9bd5"/>
<text x="494.4" y="764.04" font-size="6.49" fill="#505050" font-family="Liberation Sans, sans-serif" textLength="30.6" lengthAdjust="spacingAndGlyphs">Loading Time</text>
<rect x="534.4" y="759.85" width="11.6" height="3.5" fill="#ed7d31"/>
<text x="548" y="764.04" font-size="6.49" fill="#505050" font-family="Liberation Sans, sans-serif" textLength="37.4" lengthAdjust="spacingAndGlyphs">Processing Time</text>
<rect x="594.4" y="759.85" width="11.6" height="3.5" fill="#a5a5a5"/>
<text x="607.6" y="764.04" font-size="6.49" fill="#505050" font-family="Liberation Sans, sans-serif" textLength="30" lengthAdjust="spacingAndGlyphs">Writing Time</text>
<line x1="647.8" x2="658.6" y1="761.6" y2="761.6" stroke="#ffc000" stroke-width="1.4" stroke-linecap="round"/>
<text x="660.6" y="764.04" font-size="6.49" fill="#505050" font-family="Liberation Sans, sans-serif" textLength="24.8" lengthAdjust="spacingAndGlyphs">Total Time</text>
<text y="789.9" fill="#161616" stroke="#161616" stroke-width="0.3" font-family="Liberation Serif, serif"><tspan x="516.7" font-size="16.4" font-weight="bold" textLength="15.2" lengthAdjust="spacingAndGlyphs">(f)</tspan> <tspan x="537" font-size="13" textLength="61.6" lengthAdjust="spacingAndGlyphs">LUBM-40K</tspan> <tspan x="604.5" font-size="13" textLength="38.8" lengthAdjust="spacingAndGlyphs">Dataset.</tspan></text>
</g>
<g id="chart-g">
<line x1="26.3" x2="367.4" y1="997.2" y2="997.2" stroke="#e0e0e0" stroke-width="0.9"/>
<text x="20.8" y="998.88" text-anchor="end" font-size="6.2" fill="#505050" font-family="Liberation Sans, sans-serif" textLength="2.87" lengthAdjust="spacingAndGlyphs">0</text>
<line x1="26.3" x2="367.4" y1="983" y2="983" stroke="#e0e0e0" stroke-width="0.9"/>
<text x="20.8" y="984.68" text-anchor="end" font-size="6.2" fill="#505050" font-family="Liberation Sans, sans-serif" textLength="8.61" lengthAdjust="spacingAndGlyphs">500</text>
<line x1="26.3" x2="367.4" y1="968.8" y2="968.8" stroke="#e0e0e0" stroke-width="0.9"/>
<text x="20.8" y="970.48" text-anchor="end" font-size="6.2" fill="#505050" font-family="Liberation Sans, sans-serif" textLength="11.48" lengthAdjust="spacingAndGlyphs">1000</text>
<line x1="26.3" x2="367.4" y1="954.6" y2="954.6" stroke="#e0e0e0" stroke-width="0.9"/>
<text x="20.8" y="956.28" text-anchor="end" font-size="6.2" fill="#505050" font-family="Liberation Sans, sans-serif" textLength="11.48" lengthAdjust="spacingAndGlyphs">1500</text>
<line x1="26.3" x2="367.4" y1="940.4" y2="940.4" stroke="#e0e0e0" stroke-width="0.9"/>
<text x="20.8" y="942.08" text-anchor="end" font-size="6.2" fill="#505050" font-family="Liberation Sans, sans-serif" textLength="11.48" lengthAdjust="spacingAndGlyphs">2000</text>
<line x1="26.3" x2="367.4" y1="926.2" y2="926.2" stroke="#e0e0e0" stroke-width="0.9"/>
<text x="20.8" y="927.88" text-anchor="end" font-size="6.2" fill="#505050" font-family="Liberation Sans, sans-serif" textLength="11.48" lengthAdjust="spacingAndGlyphs">2500</text>
<line x1="26.3" x2="367.4" y1="912" y2="912" stroke="#e0e0e0" stroke-width="0.9"/>
<text x="20.8" y="913.68" text-anchor="end" font-size="6.2" fill="#505050" font-family="Liberation Sans, sans-serif" textLength="11.48" lengthAdjust="spacingAndGlyphs">3000</text>
<line x1="26.3" x2="367.4" y1="897.8" y2="897.8" stroke="#e0e0e0" stroke-width="0.9"/>
<text x="20.8" y="899.48" text-anchor="end" font-size="6.2" fill="#505050" font-family="Liberation Sans, sans-serif" textLength="11.48" lengthAdjust="spacingAndGlyphs">3500</text>
<line x1="26.3" x2="367.4" y1="883.6" y2="883.6" stroke="#e0e0e0" stroke-width="0.9"/>
<text x="20.8" y="885.28" text-anchor="end" font-size="6.2" fill="#505050" font-family="Liberation Sans, sans-serif" textLength="11.48" lengthAdjust="spacingAndGlyphs">4000</text>
<line x1="26.3" x2="367.4" y1="869.4" y2="869.4" stroke="#e0e0e0" stroke-width="0.9"/>
<text x="20.8" y="871.08" text-anchor="end" font-size="6.2" fill="#505050" font-family="Liberation Sans, sans-serif" textLength="11.48" lengthAdjust="spacingAndGlyphs">4500</text>
<line x1="26.3" x2="367.4" y1="855.2" y2="855.2" stroke="#e0e0e0" stroke-width="0.9"/>
<text x="20.8" y="856.88" text-anchor="end" font-size="6.2" fill="#505050" font-family="Liberation Sans, sans-serif" textLength="11.48" lengthAdjust="spacingAndGlyphs">5000</text>
<text x="182.4" y="845.5" text-anchor="middle" font-size="8.9" font-weight="bold" fill="#454545" font-family="Liberation Sans, sans-serif" textLength="39.4" lengthAdjust="spacingAndGlyphs">LUMB-50K</text>
<rect x="39.5" y="979.59" width="11.7" height="17.61" fill="#5b9bd5"/>
<rect x="54.5" y="970.93" width="11.7" height="26.27" fill="#ed7d31"/>
<rect x="69.5" y="996.35" width="11.7" height="0.85" fill="#a5a5a5"/>
<text x="60.75" y="1005.97" text-anchor="middle" font-size="6.2" fill="#505050" font-family="Liberation Sans, sans-serif" textLength="15.66" lengthAdjust="spacingAndGlyphs">Giraph</text>
<rect x="107.6" y="976.75" width="11.7" height="20.45" fill="#5b9bd5"/>
<rect x="122.6" y="970.08" width="11.7" height="27.12" fill="#ed7d31"/>
<rect x="137.6" y="996.4" width="11.7" height="0.8" fill="#a5a5a5"/>
<text x="128.85" y="1005.97" text-anchor="middle" font-size="6.2" fill="#505050" font-family="Liberation Sans, sans-serif" textLength="9.22" lengthAdjust="spacingAndGlyphs">GPS</text>
<rect x="175.7" y="977.6" width="11.7" height="19.6" fill="#5b9bd5"/>
<rect x="190.7" y="970.93" width="11.7" height="26.27" fill="#ed7d31"/>
<rect x="205.7" y="995.64" width="11.7" height="1.56" fill="#a5a5a5"/>
<text x="196.95" y="1005.97" text-anchor="middle" font-size="6.2" fill="#505050" font-family="Liberation Sans, sans-serif" textLength="22.45" lengthAdjust="spacingAndGlyphs">GraphLab</text>
<rect x="243.8" y="956.59" width="11.7" height="40.61" fill="#5b9bd5"/>
<rect x="258.8" y="916.69" width="11.7" height="80.51" fill="#ed7d31"/>
<rect x="273.8" y="996.35" width="11.7" height="0.85" fill="#a5a5a5"/>
<text x="265.05" y="1005.97" text-anchor="middle" font-size="6.2" fill="#505050" font-family="Liberation Sans, sans-serif" textLength="21.75" lengthAdjust="spacingAndGlyphs">GraphChi</text>
<rect x="311.9" y="981.35" width="11.7" height="15.85" fill="#5b9bd5"/>
<rect x="326.9" y="973.63" width="11.7" height="23.57" fill="#ed7d31"/>
<rect x="341.9" y="996.35" width="11.7" height="0.85" fill="#a5a5a5"/>
<text x="333.15" y="1005.97" text-anchor="middle" font-size="6.2" fill="#505050" font-family="Liberation Sans, sans-serif" textLength="16.88" lengthAdjust="spacingAndGlyphs">GraphX</text>
<polyline points="60.35,953.18 128.45,948.92 196.55,949.77 264.65,876.16 332.75,957.89" fill="none" stroke="#ffc000" stroke-width="1.45" stroke-linejoin="miter" stroke-miterlimit="10" stroke-linecap="round"/>
<text x="160" y="1015.76" font-size="6.77" fill="#454545" font-family="Liberation Sans, sans-serif" font-weight="bold" textLength="72" lengthAdjust="spacingAndGlyphs">Graph Processing Systems</text>
<text transform="translate(5.2 950.8) rotate(-90)" font-size="6.77" fill="#454545" font-family="Liberation Sans, sans-serif" font-weight="bold" textLength="49.2" lengthAdjust="spacingAndGlyphs">Time (in Seconds)</text>
<rect x="82" y="1028.85" width="11.6" height="3.5" fill="#5b9bd5"/>
<text x="95.4" y="1033.04" font-size="6.49" fill="#505050" font-family="Liberation Sans, sans-serif" textLength="30.6" lengthAdjust="spacingAndGlyphs">Loading Time</text>
<rect x="135.4" y="1028.85" width="11.6" height="3.5" fill="#ed7d31"/>
<text x="149" y="1033.04" font-size="6.49" fill="#505050" font-family="Liberation Sans, sans-serif" textLength="37.4" lengthAdjust="spacingAndGlyphs">Processing Time</text>
<rect x="195.6" y="1028.85" width="11.4" height="3.5" fill="#a5a5a5"/>
<text x="208.6" y="1033.04" font-size="6.49" fill="#505050" font-family="Liberation Sans, sans-serif" textLength="30" lengthAdjust="spacingAndGlyphs">Writing Time</text>
<line x1="248.4" x2="259.2" y1="1030.6" y2="1030.6" stroke="#ffc000" stroke-width="1.4" stroke-linecap="round"/>
<text x="261.4" y="1033.04" font-size="6.49" fill="#505050" font-family="Liberation Sans, sans-serif" textLength="24.6" lengthAdjust="spacingAndGlyphs">Total Time</text>
<text y="1058.5" fill="#161616" stroke="#161616" stroke-width="0.3" font-family="Liberation Serif, serif"><tspan x="116.4" font-size="16.4" font-weight="bold" textLength="18" lengthAdjust="spacingAndGlyphs">(g)</tspan> <tspan x="138.6" font-size="13" textLength="61.7" lengthAdjust="spacingAndGlyphs">LUBM-50K</tspan> <tspan x="206.2" font-size="13" textLength="38.8" lengthAdjust="spacingAndGlyphs">Dataset.</tspan></text>
</g>
<g id="chart-h">
<line x1="430.4" x2="765" y1="1007.2" y2="1007.2" stroke="#e0e0e0" stroke-width="0.9"/>
<text x="423.8" y="1009.2" text-anchor="end" font-size="6.6" fill="#505050" font-family="Liberation Sans, sans-serif" textLength="3.3" lengthAdjust="spacingAndGlyphs">0</text>
<line x1="430.4" x2="765" y1="971.16" y2="971.16" stroke="#e0e0e0" stroke-width="0.9"/>
<text x="423.8" y="973.16" text-anchor="end" font-size="6.6" fill="#505050" font-family="Liberation Sans, sans-serif" textLength="9.9" lengthAdjust="spacingAndGlyphs">500</text>
<line x1="430.4" x2="765" y1="935.12" y2="935.12" stroke="#e0e0e0" stroke-width="0.9"/>
<text x="423.8" y="937.12" text-anchor="end" font-size="6.6" fill="#505050" font-family="Liberation Sans, sans-serif" textLength="13.2" lengthAdjust="spacingAndGlyphs">1000</text>
<line x1="430.4" x2="765" y1="899.08" y2="899.08" stroke="#e0e0e0" stroke-width="0.9"/>
<text x="423.8" y="901.08" text-anchor="end" font-size="6.6" fill="#505050" font-family="Liberation Sans, sans-serif" textLength="13.2" lengthAdjust="spacingAndGlyphs">1500</text>
<line x1="430.4" x2="765" y1="863.04" y2="863.04" stroke="#e0e0e0" stroke-width="0.9"/>
<text x="423.8" y="865.04" text-anchor="end" font-size="6.6" fill="#505050" font-family="Liberation Sans, sans-serif" textLength="13.2" lengthAdjust="spacingAndGlyphs">2000</text>
<line x1="430.4" x2="765" y1="827" y2="827" stroke="#e0e0e0" stroke-width="0.9"/>
<text x="423.8" y="829" text-anchor="end" font-size="6.6" fill="#505050" font-family="Liberation Sans, sans-serif" textLength="13.2" lengthAdjust="spacingAndGlyphs">2500</text>
<text x="581.6" y="815.5" text-anchor="middle" font-size="9.4" font-weight="bold" fill="#454545" font-family="Liberation Sans, sans-serif" textLength="34.4" lengthAdjust="spacingAndGlyphs">Average</text>
<rect x="453.36" y="939.81" width="21" height="67.39" fill="#5b9bd5"/>
<text x="464.26" y="1017.7" text-anchor="middle" font-size="6.6" fill="#505050" font-family="Liberation Sans, sans-serif" textLength="18" lengthAdjust="spacingAndGlyphs">Giraph</text>
<rect x="520.28" y="932.6" width="21" height="74.6" fill="#5b9bd5"/>
<text x="531.18" y="1017.7" text-anchor="middle" font-size="6.6" fill="#505050" font-family="Liberation Sans, sans-serif" textLength="10.6" lengthAdjust="spacingAndGlyphs">GPS</text>
<rect x="587.2" y="941.25" width="21" height="65.95" fill="#5b9bd5"/>
<text x="598.1" y="1017.7" text-anchor="middle" font-size="6.6" fill="#505050" font-family="Liberation Sans, sans-serif" textLength="25.8" lengthAdjust="spacingAndGlyphs">GraphLab</text>
<rect x="654.12" y="837.81" width="21" height="169.39" fill="#5b9bd5"/>
<text x="665.02" y="1017.7" text-anchor="middle" font-size="6.6" fill="#505050" font-family="Liberation Sans, sans-serif" textLength="25" lengthAdjust="spacingAndGlyphs">GraphChi</text>
<rect x="721.04" y="948.96" width="21" height="58.24" fill="#5b9bd5"/>
<text x="731.94" y="1017.7" text-anchor="middle" font-size="6.6" fill="#505050" font-family="Liberation Sans, sans-serif" textLength="19.4" lengthAdjust="spacingAndGlyphs">GraphX</text>
<text x="555.8" y="1028.9" font-size="7.2" fill="#454545" font-family="Liberation Sans, sans-serif" font-weight="bold" textLength="82.2" lengthAdjust="spacingAndGlyphs">Graph Processing Systems</text>
<text transform="translate(406.3 945.25) rotate(-90)" font-size="7.2" fill="#454545" font-family="Liberation Sans, sans-serif" font-weight="bold" textLength="56.5" lengthAdjust="spacingAndGlyphs">Time (in Seconds)</text>
<text y="1058.8" fill="#161616" stroke="#161616" stroke-width="0.3" font-family="Liberation Serif, serif"><tspan x="506.2" font-size="16.4" font-weight="bold" textLength="19.8" lengthAdjust="spacingAndGlyphs">(h)</tspan> <tspan x="530.5" font-size="13" textLength="40.1" lengthAdjust="spacingAndGlyphs">Average</tspan> <tspan x="575.8" font-size="13" textLength="11.1" lengthAdjust="spacingAndGlyphs">on</tspan> <tspan x="593.1" font-size="13" textLength="11.4" lengthAdjust="spacingAndGlyphs">all</tspan> <tspan x="609.7" font-size="13" textLength="40.3" lengthAdjust="spacingAndGlyphs">datasets.</tspan></text>
</g>
</svg></body></html>
